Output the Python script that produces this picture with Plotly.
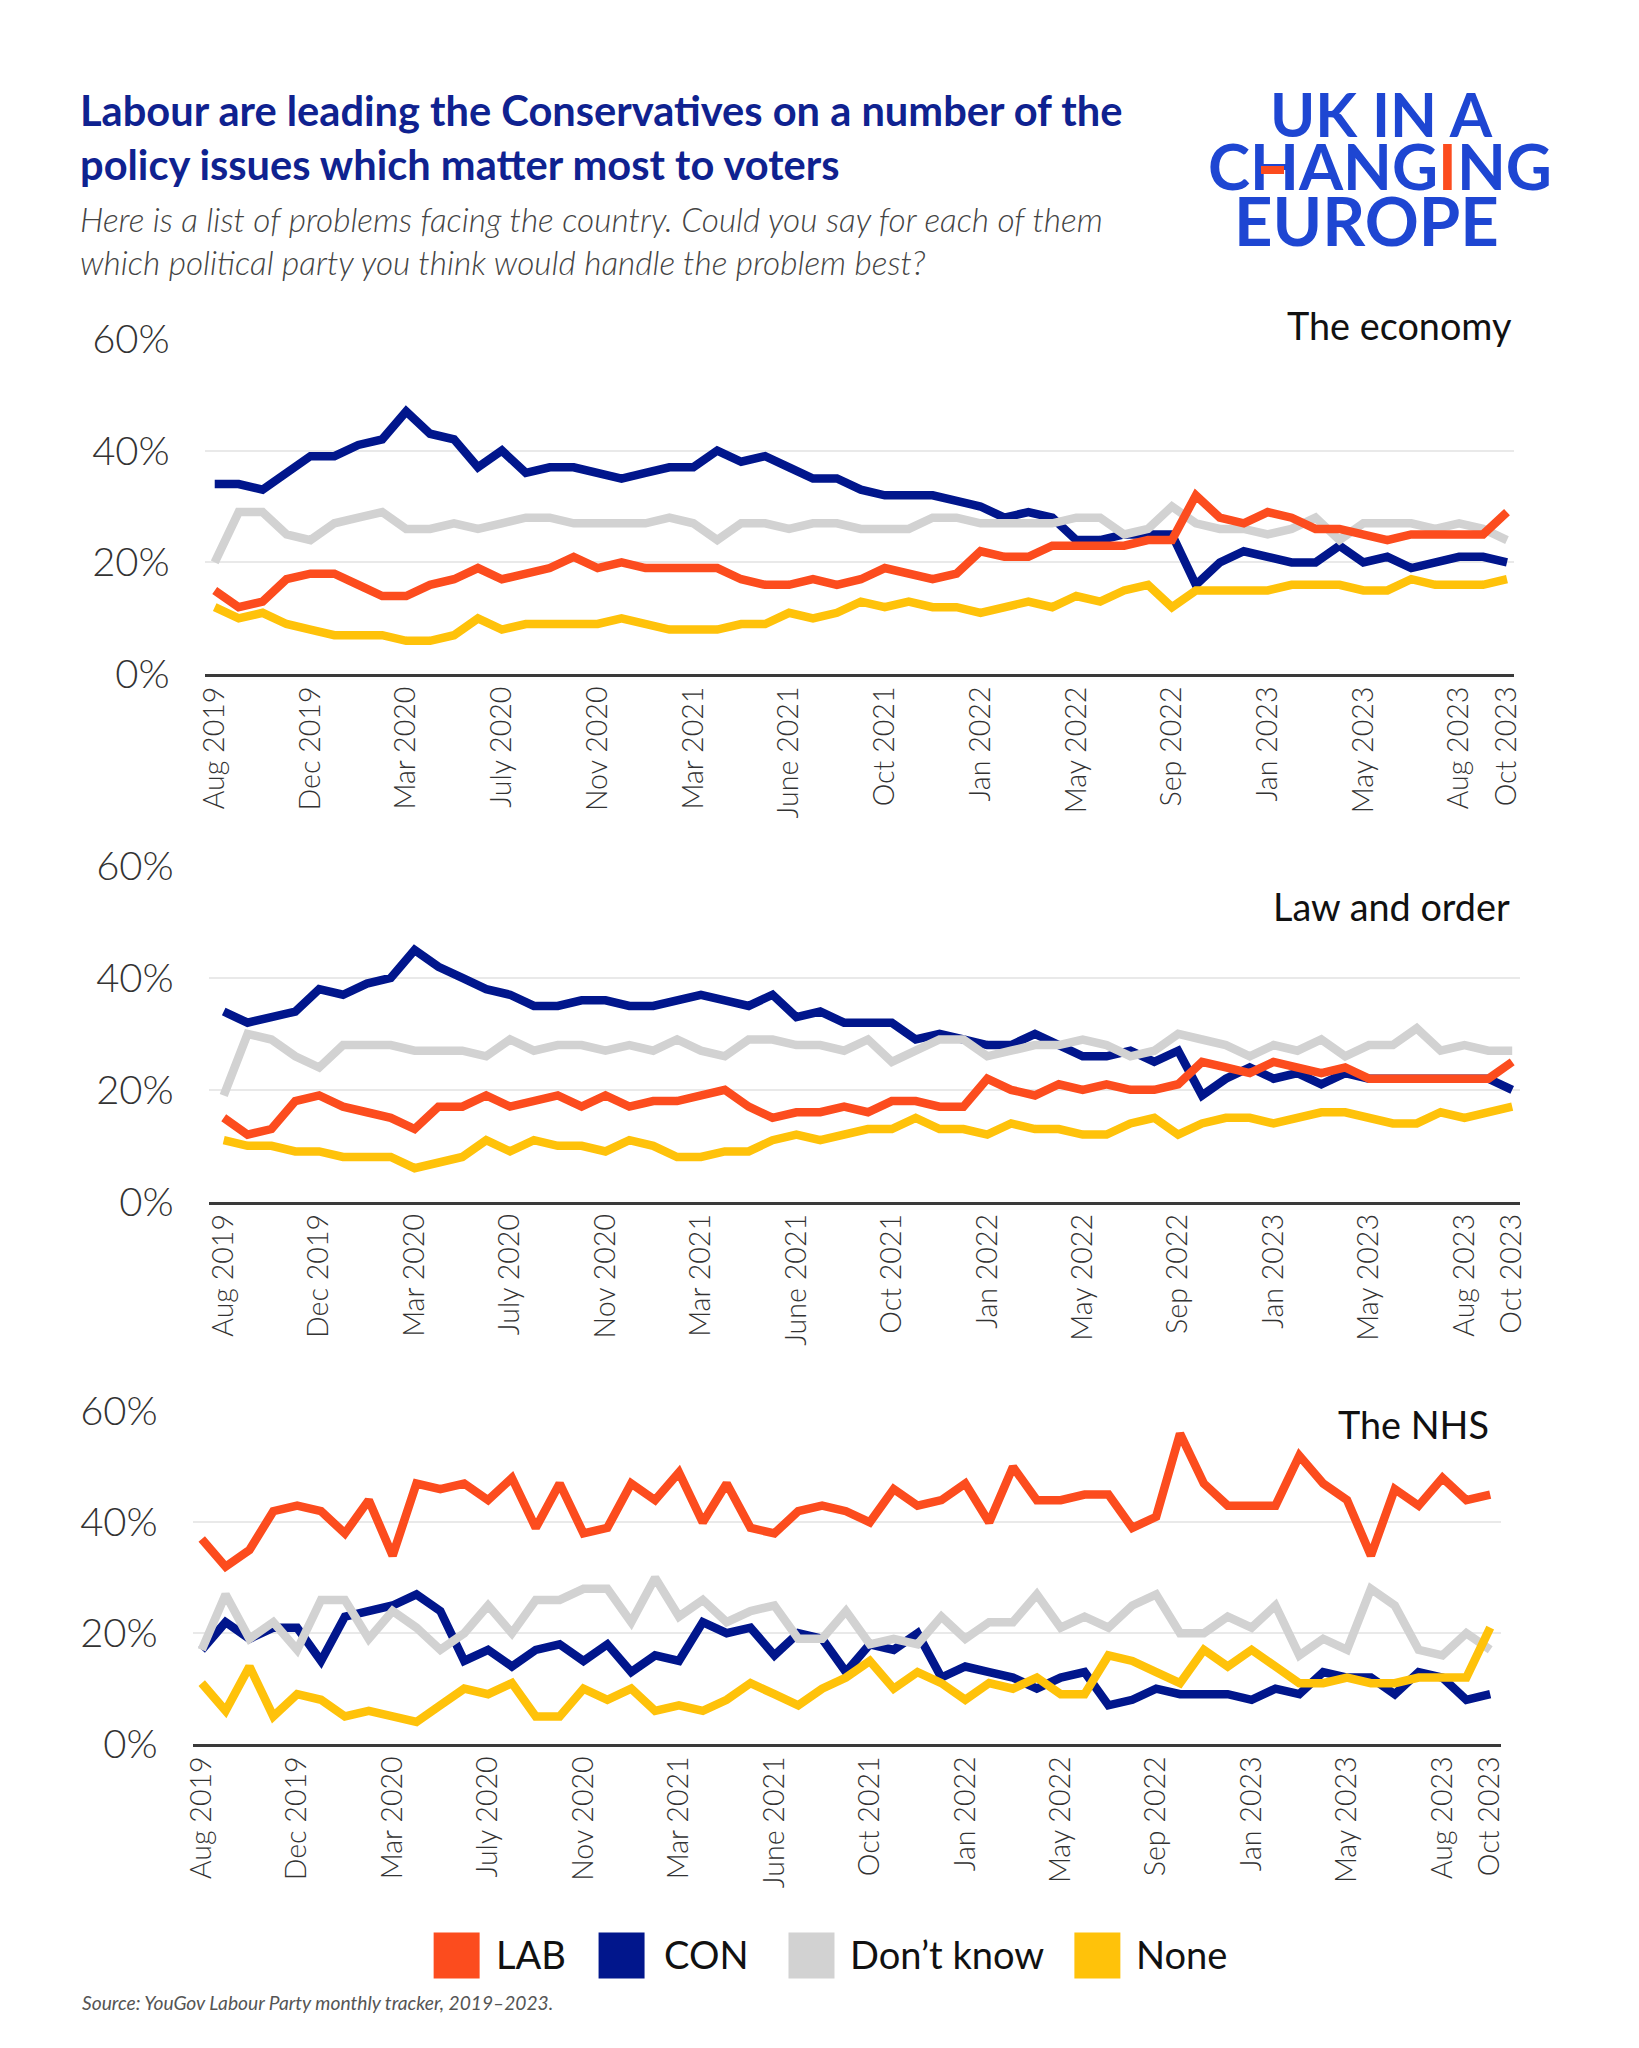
import plotly.graph_objects as go

# ---------------- DATA ----------------
survey_index = list(range(55))
tick_index = [0, 4, 8, 12, 16, 20, 24, 28, 32, 36, 40, 44, 48, 52, 54]
tick_labels = ["Aug 2019", "Dec 2019", "Mar 2020", "July 2020", "Nov 2020", "Mar 2021",
               "June 2021", "Oct 2021", "Jan 2022", "May 2022", "Sep 2022", "Jan 2023",
               "May 2023", "Aug 2023", "Oct 2023"]
y_ticks = [0, 20, 40, 60]
y_tick_labels = ["0%", "20%", "40%", "60%"]

series_names = ["LAB", "CON", "Don\u2019t know", "None"]

economy_lab = [15,12,13,17,18,18,16,14,14,16,17,19,17,18,19,21,19,20,19,19,19,19,17,16,16,17,16,17,19,18,17,
               18,22,21,21,23,23,23,23,24,24,32,28,27,29,28,26,26,25,24,25,25,25,25,29]
economy_con = [34,34,33,36,39,39,41,42,47,43,42,37,40,36,37,37,36,35,36,37,37,40,38,39,37,35,35,33,32,32,32,
               31,30,28,29,28,24,24,25,25,25,16,20,22,21,20,20,23,20,21,19,20,21,21,20]
economy_dk = [20,29,29,25,24,27,28,29,26,26,27,26,27,28,28,27,27,27,27,28,27,24,27,27,26,27,27,26,26,26,28,
              28,27,27,27,27,28,28,25,26,30,27,26,26,25,26,28,24,27,27,27,26,27,26,24]
economy_none = [12,10,11,9,8,7,7,7,6,6,7,10,8,9,9,9,9,10,9,8,8,8,9,9,11,10,11,13,12,13,12,
                12,11,12,13,12,14,13,15,16,12,15,15,15,15,16,16,16,15,15,17,16,16,16,17]

law_lab = [15,12,13,18,19,17,16,15,13,17,17,19,17,18,19,17,19,17,18,18,19,20,17,15,16,16,17,16,18,18,17,
           17,22,20,19,21,20,21,20,20,21,25,24,23,25,24,23,24,22,22,22,22,22,22,25]
law_con = [34,32,33,34,38,37,39,40,45,42,40,38,37,35,35,36,36,35,35,36,37,36,35,37,33,34,32,32,32,29,30,
           29,28,28,30,28,26,26,27,25,27,19,22,24,22,23,21,23,22,22,22,22,22,22,20]
law_dk = [19,30,29,26,24,28,28,28,27,27,27,26,29,27,28,28,27,28,27,29,27,26,29,29,28,28,27,
          29,25,27,29,29,26,27,28,28,29,28,26,27,30,29,28,26,28,27,29,26,28,28,31,27,28,27,27]
law_none = [11,10,10,9,9,8,8,8,6,7,8,11,9,11,10,10,9,11,10,8,8,9,9,11,12,11,12,
            13,13,15,13,13,12,14,13,13,12,12,14,15,12,14,15,15,14,15,16,16,15,14,14,16,15,16,17]

nhs_lab = [37,32,35,42,43,42,38,44,34,47,46,47,44,48,39,47,38,39,47,44,49,40,47,39,38,42,43,42,40,46,43,44,
           47,40,50,44,44,45,45,39,41,56,47,43,43,43,52,47,44,34,46,43,48,44,45]
nhs_con = [17,22,19,21,21,15,23,24,25,27,24,15,17,14,17,18,15,18,13,16,15,22,20,21,16,20,19,13,18,
           17,20,12,14,13,12,10,12,13,7,8,10,9,9,9,8,10,9,13,12,12,9,13,12,8,9]
nhs_dk = [17,27,19,22,17,26,26,19,24,21,17,20,25,20,26,26,28,28,22,30,23,26,22,24,25,19,19,24,18,
          19,18,23,19,22,22,27,21,23,21,25,27,20,20,23,21,25,16,19,17,28,25,17,16,20,17]
nhs_none = [11,6,14,5,9,8,5,6,5,4,7,10,9,11,5,5,10,8,10,6,7,6,8,11,9,7,10,12,15,
            10,13,11,8,11,10,12,9,9,16,15,13,11,17,14,17,14,11,11,12,11,11,12,12,12,21]

panel_titles = ["The economy", "Law and order", "The NHS"]

# ---------------- STYLE / LAYOUT ----------------
W, H = 1639, 2048
COLORS = {"LAB": "#FC4C1E", "CON": "#01168C", "Don\u2019t know": "#D2D2D2", "None": "#FFC20A"}
FONT = "Lato"
draw_order = ["CON", "Don\u2019t know", "LAB", "None"]

# calibration of the photographed page (target pixel -> figure pixel)
AX, BX = 0.9894, 10.2
AY, BY = 0.9795, 22.7

def px(x):
    return ((x - BX) / AX) / W

def py(y):
    return 1 - ((y - BY) / AY) / H

panels = [
    dict(data=[economy_lab, economy_con, economy_dk, economy_none],
         xpx=(205, 1515), ypx=(674, 337), first=215, step=23.94,
         title_x=1515, title_y=324),
    dict(data=[law_lab, law_con, law_dk, law_none],
         xpx=(209, 1521), ypx=(1203, 866), first=224, step=23.87,
         title_x=1513, title_y=907),
    dict(data=[nhs_lab, nhs_con, nhs_dk, nhs_none],
         xpx=(193, 1502), ypx=(1747, 1413), first=202, step=23.87,
         title_x=1492, title_y=1426),
]

fig = go.Figure()
layout = dict(width=W, height=H, margin=dict(l=0, r=0, t=0, b=0),
              paper_bgcolor="white", plot_bgcolor="white", showlegend=False,
              font=dict(family=FONT, color="#333333"))
annotations = []
shapes = []

for k, p in enumerate(panels):
    xa = "x" if k == 0 else f"x{k+1}"
    ya = "y" if k == 0 else f"y{k+1}"
    vals = dict(zip(series_names, p["data"]))
    for name in draw_order:
        fig.add_trace(go.Scatter(x=survey_index, y=vals[name], mode="lines", name=name,
                                 line=dict(color=COLORS[name], width=8.5),
                                 xaxis=xa, yaxis=ya))
    x0 = (p["xpx"][0] - p["first"]) / p["step"]
    x1 = (p["xpx"][1] - p["first"]) / p["step"]
    layout["xaxis" if k == 0 else f"xaxis{k+1}"] = dict(
        domain=[px(p["xpx"][0]), px(p["xpx"][1])], range=[x0, x1], anchor=ya,
        tickmode="array", tickvals=tick_index, ticktext=tick_labels, tickangle=-90,
        showgrid=False, zeroline=False, showline=True, linecolor="#3a3a3a", linewidth=2.5,
        ticks="", ticklabelstandoff=-2,
        tickfont=dict(family=FONT, size=28.6, color="#333333", weight=300))
    layout["yaxis" if k == 0 else f"yaxis{k+1}"] = dict(
        domain=[py(p["ypx"][0]), py(p["ypx"][1])], range=[0, 60.05], anchor=xa,
        tickmode="array", tickvals=y_ticks, ticktext=y_tick_labels,
        showgrid=True, gridcolor="#E9E9E9", gridwidth=2, zeroline=False, showline=False,
        ticks="", ticklabelstandoff=34,
        tickfont=dict(family=FONT, size=40, color="#333333", weight=300))
    annotations.append(dict(text=panel_titles[k], x=px(p["title_x"]), y=py(p["title_y"]),
                            xanchor="right", yanchor="middle",
                            font=dict(family=FONT, size=37.8, color="#111111")))

# Title and subtitle
TITLE_C = "#0F2290"
annotations += [
    dict(text="<b>Labour are leading the Conservatives on a number of the</b><br>"
              "<b>policy issues which matter most to voters</b>",
         x=px(78), y=py(135), xanchor="left", yanchor="middle", align="left",
         font=dict(family=FONT, size=41.6, color=TITLE_C)),
    dict(text="<i>Here is a list of problems facing the country. Could you say for each of them</i><br>"
              "<i>which political party you think would handle the problem best?</i>",
         x=px(78), y=py(239), xanchor="left", yanchor="middle", align="left",
         font=dict(family=FONT, size=33.4, color="#444444", weight=300)),
]

# Logo
LOGO_B = "#1E46D2"
LOGO_R = "#FC4C1E"
annotations += [
    dict(text="<b>UK IN A</b>", x=px(1382), y=py(111), xanchor="center", yanchor="middle",
         font=dict(family=FONT, size=61, color=LOGO_B)),
    dict(text=f"<b>CHANG<span style='color:{LOGO_R}'>I</span>NG</b>", x=px(1381), y=py(164),
         xanchor="center", yanchor="middle", font=dict(family=FONT, size=63.5, color=LOGO_B)),
    dict(text="<b>EUROPE</b>", x=px(1367), y=py(218), xanchor="center", yanchor="middle",
         font=dict(family=FONT, size=67, color=LOGO_B)),
    # red cross-bar of the "H" in the logo
    dict(text=" ", x=px(1273), y=py(168), xanchor="center", yanchor="middle",
         width=23, height=8, bgcolor=LOGO_R, borderpad=0, borderwidth=0,
         font=dict(family=FONT, size=1, color=LOGO_R)),
]

# Legend
legend_items = [("LAB", 434, 494), ("CON", 599, 662), ("Don\u2019t know", 789, 849), ("None", 1075, 1135)]
for name, sx, tx in legend_items:
    shapes.append(dict(type="rect", xref="paper", yref="paper", x0=px(sx), x1=px(sx + 46),
                       y0=py(1982), y1=py(1936), fillcolor=COLORS[name], line=dict(width=0)))
    annotations.append(dict(text=name, x=px(tx), y=py(1958), xanchor="left", yanchor="middle",
                            font=dict(family=FONT, size=38.1, color="#111111")))

annotations.append(dict(text="<i>Source: YouGov Labour Party monthly tracker, 2019\u20132023.</i>",
                        x=px(80), y=py(2006), xanchor="left", yanchor="middle",
                        font=dict(family=FONT, size=19.2, color="#555555")))

for a in annotations:
    a.setdefault("xref", "paper")
    a.setdefault("yref", "paper")
    a.setdefault("showarrow", False)

layout["annotations"] = annotations
layout["shapes"] = shapes
fig.update_layout(**layout)
fig.write_html("out.html", config={"displayModeBar": False},
               post_script="document.body.style.margin='0';document.body.style.padding='0';"
                           "document.documentElement.style.overflow='hidden';")
